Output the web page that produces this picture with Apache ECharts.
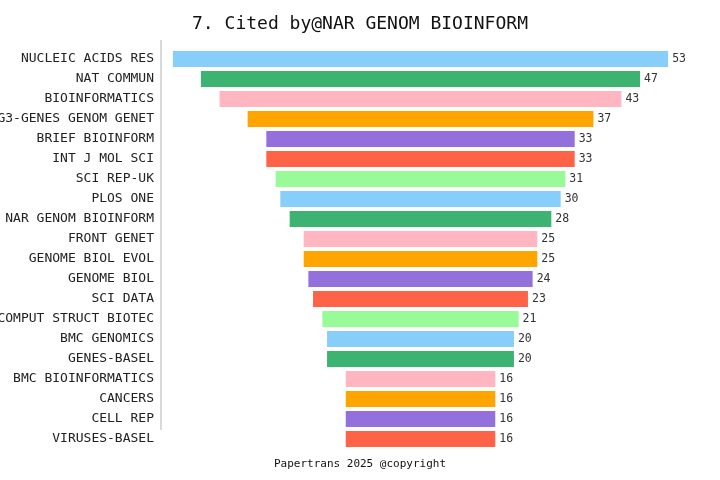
<!DOCTYPE html>
<html>
<head>
<meta charset="utf-8">
<script src="https://cdn.jsdelivr.net/npm/echarts@6/dist/echarts.min.js"></script>
<style>
  html, body { margin: 0; padding: 0; background: #fff; }
  #chart { width: 720px; height: 480px; }
</style>
</head>
<body>
<div id="chart"></div>
<script>
// =====================
// Data
// =====================
const journals = [
  "NUCLEIC ACIDS RES", "NAT COMMUN", "BIOINFORMATICS", "G3-GENES GENOM GENET",
  "BRIEF BIOINFORM", "INT J MOL SCI", "SCI REP-UK", "PLOS ONE",
  "NAR GENOM BIOINFORM", "FRONT GENET", "GENOME BIOL EVOL", "GENOME BIOL",
  "SCI DATA", "COMPUT STRUCT BIOTEC", "BMC GENOMICS", "GENES-BASEL",
  "BMC BIOINFORMATICS", "CANCERS", "CELL REP", "VIRUSES-BASEL"
]
const counts = [53, 47, 43, 37, 33, 33, 31, 30, 28, 25, 25, 24, 23, 21, 20, 20, 16, 16, 16, 16]

const palette = ["#87CEFA", "#3CB371", "#FFB6C1", "#FFA500", "#9370DB", "#FF6347", "#98FB98"]

const MONO = "'DejaVu Sans Mono', monospace"

const chart = echarts.init(document.getElementById("chart"))

// bars centred on 0, drawn through the axis scales
function renderBar(params, api) {
  const idx = api.value(0)
  const v = api.value(1)
  const left = api.coord([-v / 2, idx])
  const right = api.coord([v / 2, idx])
  const h = api.size([0, 1])[1] * 0.8
  return {
    type: "group",
    children: [
      {
        type: "rect",
        shape: { x: left[0], y: left[1] - h / 2, width: right[0] - left[0], height: h },
        style: { fill: palette[idx % palette.length], stroke: null, lineWidth: 0 }
      },
      {
        type: "text",
        style: {
          text: String(v),
          x: right[0] + 4,
          y: right[1],
          verticalAlign: "middle",
          fill: "#333",
          font: "11.5px " + MONO
        }
      }
    ]
  }
}

const option = {
  animation: false,
  title: {
    text: "7. Cited by@NAR GENOM BIOINFORM",
    left: "center",
    top: 10,
    textStyle: { fontFamily: MONO, fontSize: 18, fontWeight: "normal", color: "#111" }
  },
  grid: { left: 161, right: 40, top: 49, bottom: 31, containLabel: false, outerBoundsMode: "none" },
  xAxis: {
    type: "value",
    min: -27.77,
    max: 27.77,
    show: false
  },
  yAxis: {
    type: "category",
    data: journals,
    inverse: true,
    axisLine: { show: false },
    axisTick: { show: false },
    axisLabel: { fontFamily: MONO, fontSize: 13, color: "#222", margin: 7 }
  },
  series: [{
    type: "custom",
    renderItem: renderBar,
    encode: { x: 1, y: 0 },
    data: counts.map((c, i) => [i, c])
  }],
  graphic: [
    {
      type: "line",
      shape: { x1: 161, y1: 40, x2: 161, y2: 430 },
      style: { stroke: "#d9d9d9", lineWidth: 2 }
    },
    {
      type: "text",
      left: "center",
      top: 459,
      style: { text: "Papertrans 2025 @copyright", font: "11px " + MONO, fill: "#111" }
    }
  ]
}

chart.setOption(option)
</script>
</body>
</html>
